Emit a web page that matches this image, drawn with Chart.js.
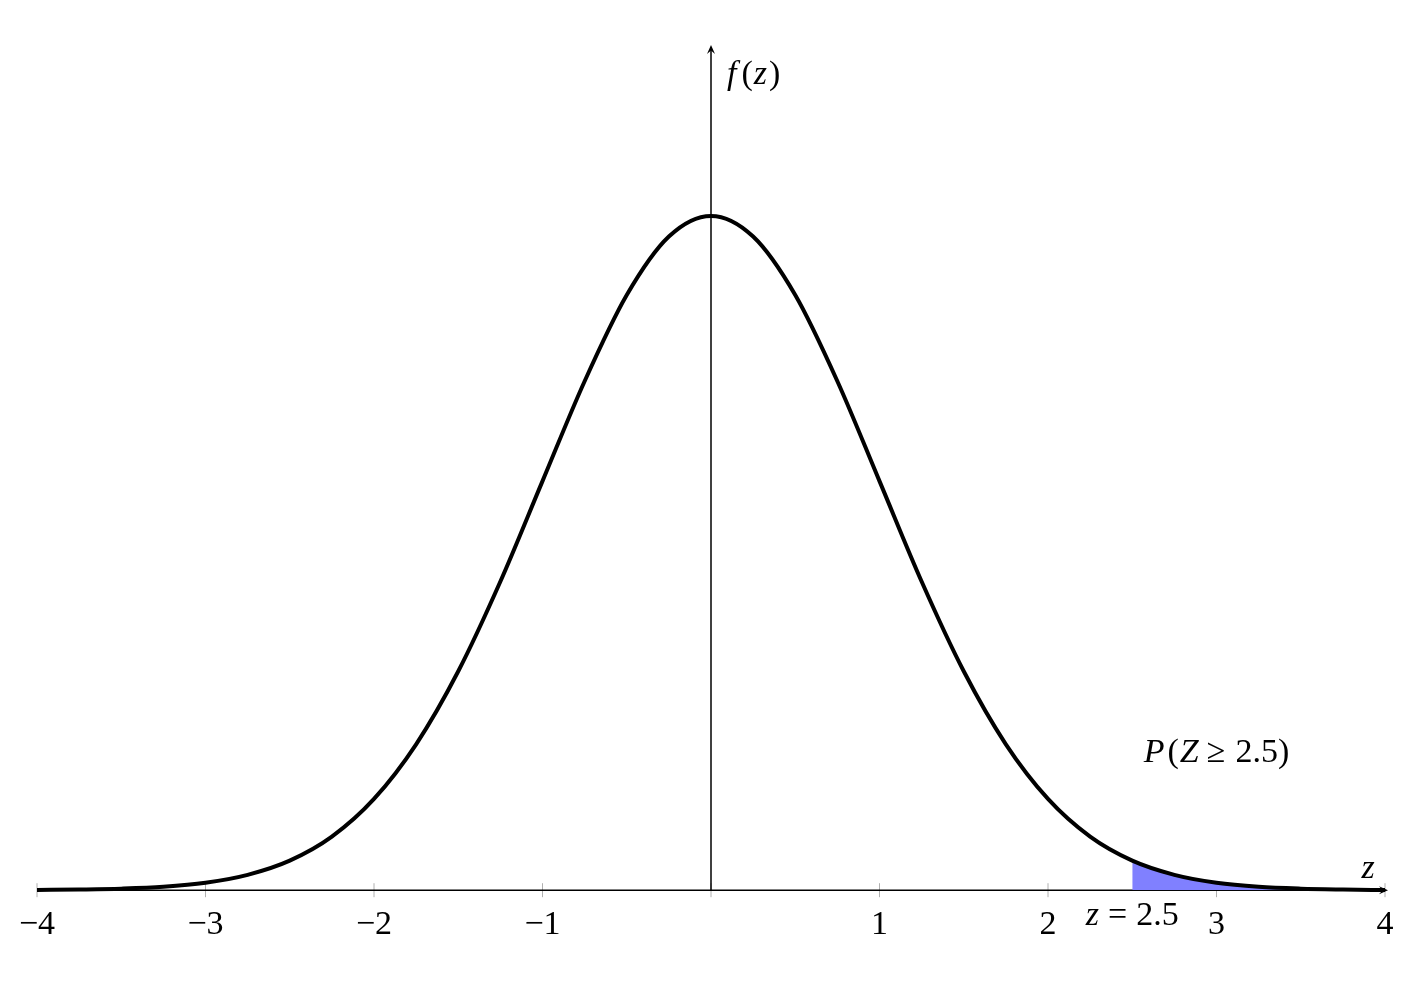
<!DOCTYPE html>
<html>
<head>
<meta charset="utf-8">
<script src="https://cdn.jsdelivr.net/npm/chart.js@4"></script>
<style>
    body { margin: 0; background: #fff; }
    #wrap { width: 1418px; height: 986px; }
</style>
</head>
<body>
<div id="wrap"><canvas id="normalCurve"></canvas></div>
<script>
// standard normal density, every 0.25
const zValues = [-4, -3.75, -3.5, -3.25, -3, -2.75, -2.5, -2.25, -2, -1.75, -1.5, -1.25, -1, -0.75, -0.5, -0.25,
    0, 0.25, 0.5, 0.75, 1, 1.25, 1.5, 1.75, 2, 2.25, 2.5, 2.75, 3, 3.25, 3.5, 3.75, 4];
const densityValues = [0.0001, 0.0004, 0.0009, 0.0020, 0.0044, 0.0091, 0.0175, 0.0317, 0.0540, 0.0863, 0.1295, 0.1826, 0.2420, 0.3011, 0.3521, 0.3867,
    0.3989, 0.3867, 0.3521, 0.3011, 0.2420, 0.1826, 0.1295, 0.0863, 0.0540, 0.0317, 0.0175, 0.0091, 0.0044, 0.0020, 0.0009, 0.0004, 0.0001];
const tickLabels = [-4, -3, -2, -1, 1, 2, 3, 4];
const shadeFrom = 2.5;

const FONT = "'Liberation Serif', 'DejaVu Serif', serif";
const FONT_SIZE = 34;

const curvePoints = zValues.map((z, i) => ({ x: z, y: densityValues[i] }));
const shadePoints = curvePoints.filter(p => p.x >= shadeFrom);

// draws runs like [["z", true, 8], ...]  (text, italic, extra gap after)
function drawRuns(ctx, runs, x, y, align) {
    var widths = runs.map(r => {
        ctx.font = (r[1] ? "italic " : "") + FONT_SIZE + "px " + FONT;
        return ctx.measureText(r[0]).width + (r[2] || 0);
    });
    var total = widths.reduce((a, b) => a + b, 0);
    var cx = align === "center" ? x - total / 2 : x;
    ctx.textAlign = "left";
    ctx.textBaseline = "alphabetic";
    ctx.fillStyle = "#000";
    runs.forEach((r, i) => {
        ctx.font = (r[1] ? "italic " : "") + FONT_SIZE + "px " + FONT;
        ctx.fillText(r[0], cx, y);
        cx += widths[i];
    });
}

function arrowHead(ctx, x, y, dx, dy) {
    var len = 9, half = 4;
    var nx = -dy, ny = dx;
    ctx.beginPath();
    ctx.moveTo(x, y);
    ctx.lineTo(x - dx * len + nx * half, y - dy * len + ny * half);
    ctx.lineTo(x - dx * len * 0.6, y - dy * len * 0.6);
    ctx.lineTo(x - dx * len - nx * half, y - dy * len - ny * half);
    ctx.closePath();
    ctx.fill();
}

const axesPlugin = {
    id: "axesPlugin",
    beforeDatasetsDraw(chart) {
        const ctx = chart.ctx;
        const xs = chart.scales.x, ys = chart.scales.y;
        const y0 = ys.getPixelForValue(0);
        const x0 = xs.getPixelForValue(0);
        ctx.save();
        // tick marks
        ctx.strokeStyle = "#b0b0b0";
        ctx.lineWidth = 1;
        for (var t = -4; t <= 4; t++) {
            var px = xs.getPixelForValue(t);
            ctx.beginPath();
            ctx.moveTo(px, y0 - 7);
            ctx.lineTo(px, y0 + 7);
            ctx.stroke();
        }
        // x axis
        ctx.strokeStyle = "#000";
        ctx.fillStyle = "#000";
        ctx.lineWidth = 1.5;
        var xEnd = xs.getPixelForValue(4) + 3;
        ctx.beginPath();
        ctx.moveTo(xs.getPixelForValue(-4), y0);
        ctx.lineTo(xEnd - 4, y0);
        ctx.stroke();
        arrowHead(ctx, xEnd, y0, 1, 0);
        // y axis
        var yTop = ys.getPixelForValue(0.5);
        ctx.beginPath();
        ctx.moveTo(x0, y0);
        ctx.lineTo(x0, yTop + 4);
        ctx.stroke();
        arrowHead(ctx, x0, yTop, 0, -1);
        ctx.restore();
    },
    afterDraw(chart) {
        const ctx = chart.ctx;
        const xs = chart.scales.x, ys = chart.scales.y;
        ctx.save();
        drawRuns(ctx, [["f", true, 5], ["(", false, 1], ["z", true, 2], [")", false]], xs.getPixelForValue(0) + 16, ys.getPixelForValue(0.5) + 39, "left");
        drawRuns(ctx, [["z", true]], xs.getPixelForValue(3.9), ys.getPixelForValue(0) - 12, "center");
        drawRuns(ctx, [["P", true, 3], ["(", false, 1], ["Z", true, 8], ["\u2265", false, 10], ["2.5)", false]], xs.getPixelForValue(3), ys.getPixelForValue(0.0757), "center");
        drawRuns(ctx, [["z", true, 9], ["=", false, 9], ["2.5", false]], xs.getPixelForValue(shadeFrom), ys.getPixelForValue(0) + 35, "center");
        ctx.restore();
    }
};

new Chart(document.getElementById("normalCurve"), {
    type: "line",
    data: {
        datasets: [
            {
                label: "density",
                data: curvePoints,
                borderColor: "#000",
                borderWidth: 4,
                pointRadius: 0,
                cubicInterpolationMode: "monotone",
                fill: false,
                clip: false,
                order: 0
            },
            {
                label: "tail",
                data: shadePoints,
                borderWidth: 0,
                borderColor: "transparent",
                backgroundColor: "#8080ff",
                pointRadius: 0,
                cubicInterpolationMode: "monotone",
                fill: "origin",
                order: 1
            }
        ]
    },
    options: {
        responsive: true,
        maintainAspectRatio: false,
        animation: false,
        layout: {
            padding: { left: 37, right: 33, top: 45, bottom: 27 }
        },
        plugins: {
            legend: { display: false },
            tooltip: { enabled: false }
        },
        scales: {
            x: {
                type: "linear",
                min: -4,
                max: 4,
                grid: { display: false, drawTicks: false },
                border: { display: false },
                ticks: {
                    stepSize: 1,
                    padding: 14,
                    color: "#000",
                    font: { family: FONT, size: FONT_SIZE },
                    callback: v => tickLabels.includes(v) ? String(v).replace("-", "\u2212") : ""
                }
            },
            y: {
                type: "linear",
                min: 0,
                max: 0.5,
                display: false
            }
        }
    },
    plugins: [axesPlugin]
});
</script>
</body>
</html>
